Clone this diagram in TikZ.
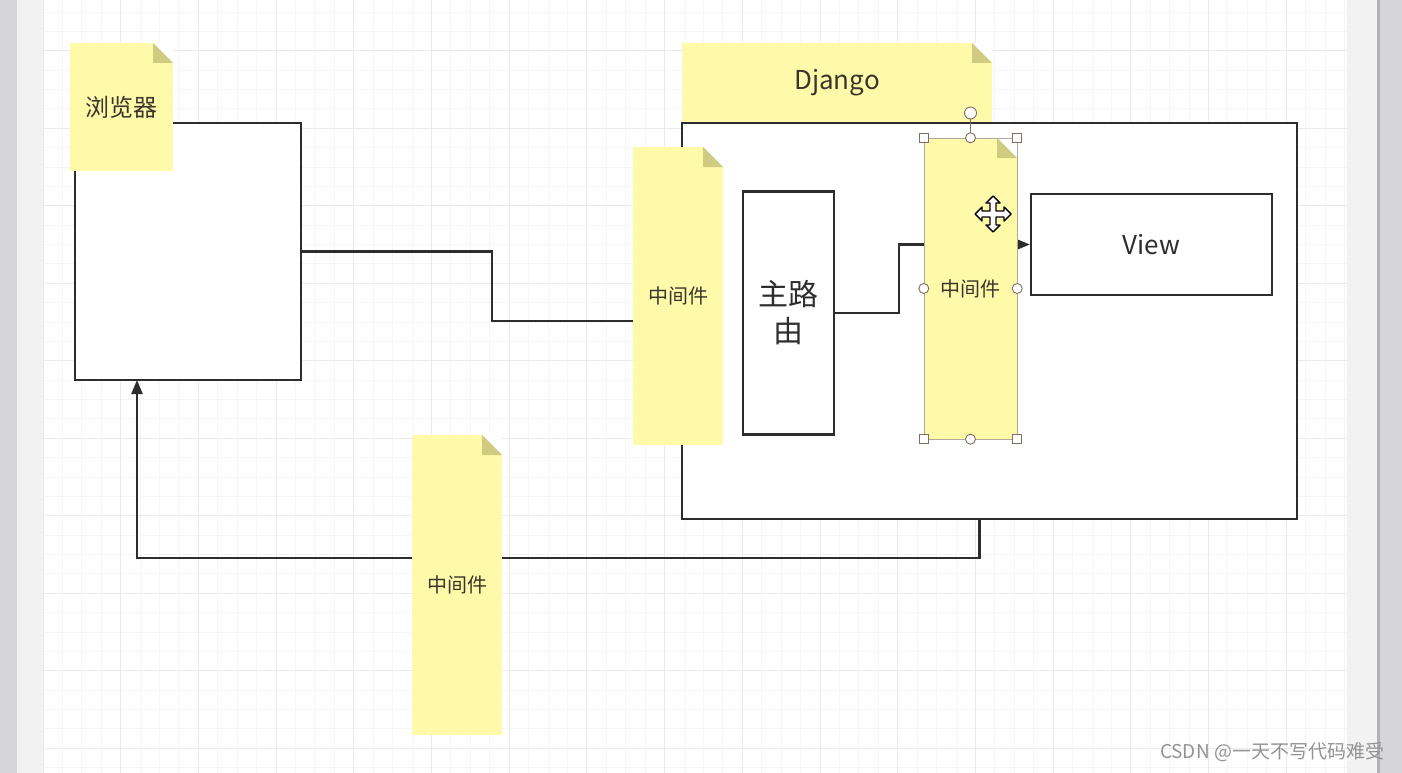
\documentclass[tikz,border=0pt]{standalone}
\usepackage{fontspec}
\newfontfamily\cjk{Noto Sans CJK SC}
\usetikzlibrary{arrows.meta}
\definecolor{NoteYellow}{RGB}{255,250,170}
\definecolor{NoteFold}{RGB}{207,204,130}
\definecolor{LineGrey}{RGB}{45,45,45}
\definecolor{TextGrey}{RGB}{55,55,45}
\definecolor{GridMinor}{RGB}{245,245,247}
\definecolor{GridMajor}{RGB}{234,234,238}
\definecolor{SideGrey}{RGB}{214,214,216}
\definecolor{SideLight}{RGB}{242,242,243}
\definecolor{SelBrown}{RGB}{128,110,95}

\tikzset{
  plainbox/.style={draw=LineGrey, line width=2.2pt, fill=white, inner sep=0pt,
    text=LineGrey, font=\cjk\fontsize{26}{30}\selectfont},
  sticky/.style={fill=NoteYellow, inner sep=0pt, text=TextGrey,
    font=\cjk\fontsize{20}{24}\selectfont,
    path picture={
      \fill[white] (path picture bounding box.north east) -- ++(-20pt,0pt) -- ++(20pt,-20pt) -- cycle;
      \fill[NoteFold] ([xshift=-20pt]path picture bounding box.north east) -- ++(0pt,-20pt) -- ++(20pt,0pt) -- cycle;
    }},
  conn/.style={draw=LineGrey, line width=2.2pt},
  selsquare/.style={draw=SelBrown, fill=white, line width=0.9pt, minimum size=9pt, inner sep=0pt},
  selcircle/.style={draw=SelBrown, fill=white, line width=0.9pt, circle, minimum size=10pt, inner sep=0pt},
}

\begin{document}
\begin{tikzpicture}[x=1pt, y=-1pt]
  \useasboundingbox (0,0) rectangle (1402,773);
  % canvas and side bands
  \fill[SideGrey] (0,0) rectangle (17,773);
  \fill[SideLight] (17,0) rectangle (43,773);
  \fill[white] (43,0) rectangle (1347,773);
  \fill[SideLight] (1347,0) rectangle (1377,773);
  \fill[SideGrey] (1377,0) rectangle (1402,773);
  \fill[gray!60] (1377,0) rectangle (1380,773);
  % grid
  \foreach \i in {0,...,67}
    \draw[GridMinor, line width=0.9pt] ({43+19.425*\i},0) -- ({43+19.425*\i},773);
  \foreach \j in {0,...,39}
    \draw[GridMinor, line width=0.9pt] (43,{12.05+19.375*\j}) -- (1347,{12.05+19.375*\j});
  \foreach \i in {0,...,16}
    \draw[GridMajor, line width=1pt] ({43+77.7*\i},0) -- ({43+77.7*\i},773);
  \foreach \j in {0,...,9}
    \draw[GridMajor, line width=1pt] (43,{50.8+77.5*\j}) -- (1347,{50.8+77.5*\j});

  % boxes
  \node[plainbox, minimum width=226pt, minimum height=257pt] (browserbox) at (188,251.5) {};
  \node[plainbox, minimum width=615pt, minimum height=396pt] (djangobox) at (989.5,321) {};
  \node[plainbox, minimum width=91pt, minimum height=243pt, align=center,
        font=\cjk\fontsize{30}{37}\selectfont] (routerbox) at (788.5,313) {主路\\由};
  \node[plainbox, minimum width=241pt, minimum height=101pt] (viewbox) at (1151.5,244.5) {View};

  % connectors
  \coordinate (mwin) at (633,321);
  \coordinate (backin) at (137,380);
  \draw[conn] (browserbox.east) -- ++(190,0) |- (mwin);
  \draw[conn, -{Triangle[length=13pt, width=10pt]}] (routerbox.east) -- ++(64,0) |- (viewbox.west);
  \draw[conn, -{Triangle[length=14pt, width=11pt]}] ([xshift=-10pt]djangobox.south) -- ++(0,38) -| (backin);

  % sticky notes
  \node[sticky, minimum width=103pt, minimum height=128pt,
        font=\cjk\fontsize{24}{28}\selectfont] (browsernote) at (121.5,107) {浏览器};
  \node[sticky, minimum width=310pt, minimum height=79pt,
        font=\cjk\fontsize{26}{30}\selectfont] (djangonote) at (837,82.5) {Django};
  \node[sticky, minimum width=90pt, minimum height=298pt] (mwnote) at (678,296) {中间件};
  \node[sticky, minimum width=93pt, minimum height=301pt, draw=SelBrown!60] (selnote) at (970.5,288.5) {中间件};
  \node[sticky, minimum width=90pt, minimum height=300pt] (backnote) at (457,585) {中间件};

  % selection handles
  \node[selcircle, minimum size=12pt] (rothandle) at (970.5,113) {};
  \draw[SelBrown, line width=1pt] (rothandle.south) -- (selnote.north);
  \foreach \a in {north west, north east, south west, south east}
    \node[selsquare] at (selnote.\a) {};
  \foreach \a in {north, south, east, west}
    \node[selcircle] at (selnote.\a) {};

  % move cursor
  \draw[black, fill=white, line width=1.4pt, line join=round, shift={(993,214)}]
    (0,-18) -- (7,-11) -- (3,-11) -- (3,-3) -- (11,-3) -- (11,-7) -- (18,0) -- (11,7) -- (11,3)
    -- (3,3) -- (3,11) -- (7,11) -- (0,18) -- (-7,11) -- (-3,11) -- (-3,3) -- (-11,3) -- (-11,7)
    -- (-18,0) -- (-11,-7) -- (-11,-3) -- (-3,-3) -- (-3,-11) -- (-7,-11) -- cycle;

  % watermark
  \node[font=\cjk\fontsize{19}{22}\selectfont, text=gray!85] (mark) at (1272,752) {CSDN @一天不写代码难受};
\end{tikzpicture}
\end{document}
